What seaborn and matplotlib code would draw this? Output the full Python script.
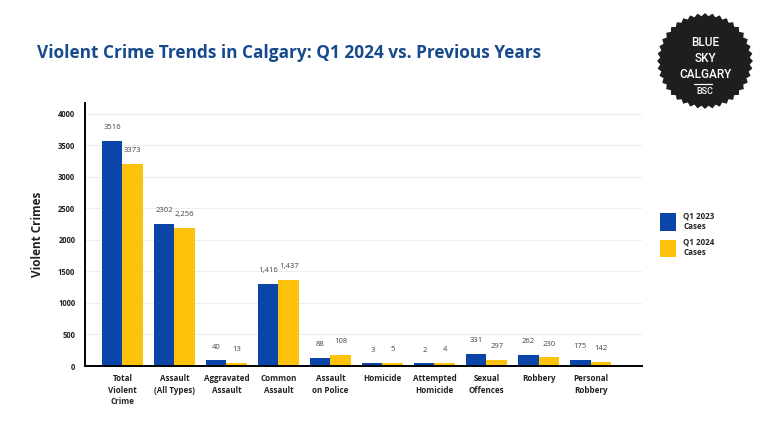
import numpy as np
import pandas as pd
import matplotlib
matplotlib.use("Agg")
import matplotlib.pyplot as plt
import seaborn as sns
from matplotlib.patches import Polygon

categories = ["Total\nViolent\nCrime", "Assault\n(All Types)", "Aggravated\nAssault", "Common\nAssault",
              "Assault\non Police", "Homicide", "Attempted\nHomicide", "Sexual\nOffences", "Robbery",
              "Personal\nRobbery"]
# bar heights as drawn in the reference
bars_2023 = [3570, 2250, 90, 1300, 130, 42, 40, 198, 178, 98]
bars_2024 = [3200, 2190, 48, 1365, 175, 55, 50, 100, 135, 67]
# value labels as printed in the reference
labels_2023 = ["3516", "2302", "40", "1,416", "88", "3", "2", "331", "262", "175"]
labels_2024 = ["3373", "2,256", "13", "1,437", "108", "5", "4", "297", "230", "142"]
series = ["Q1 2023\nCases", "Q1 2024\nCases"]
yticks = [0, 500, 1000, 1500, 2000, 2500, 3000, 3500, 4000]

BLUE = "#0B45A8"
YELLOW = "#FDC20C"
TXT = "#222222"

sns.set_theme(style="white")
plt.rcParams["font.family"] = ["Open Sans", "DejaVu Sans"]

df = pd.DataFrame({
    "cat": categories * 2,
    "val": bars_2023 + bars_2024,
    "series": [series[0]] * len(categories) + [series[1]] * len(categories),
})

fig = plt.figure(figsize=(7.68, 4.32), dpi=100)
ax = fig.add_axes([85 / 768, 1 - 366 / 432, (642 - 85) / 768, (366 - 103) / 432])
sns.barplot(data=df, x="cat", y="val", hue="series", palette=[BLUE, YELLOW],
            width=0.78, gap=0, saturation=1, linewidth=0, edgecolor="none", ax=ax, legend=True)

for cont, labs in zip(ax.containers, [labels_2023, labels_2024]):
    ax.bar_label(cont, labels=labs, padding=7, fontsize=5.5, color="#444444")

ax.set_xlim(-0.72, 9.99)
ax.set_ylim(0, 4170)
ax.set_yticks(yticks)
ax.set_yticklabels([str(v) for v in yticks], fontsize=5.5, fontweight="bold", color=TXT)
ax.tick_params(axis="y", length=0, pad=7)
ax.tick_params(axis="x", length=0, pad=6)
for t in ax.get_xticklabels():
    t.set_fontsize(5.8)
    t.set_fontweight("bold")
    t.set_color(TXT)
    t.set_linespacing(1.35)
ax.set_xlabel("")
ax.set_ylabel("Violent Crimes", fontsize=8.5, fontweight="bold", color=TXT, labelpad=10)
ax.yaxis.grid(True, color="#eeeeee", linewidth=0.8)
ax.set_axisbelow(True)
for s in ["top", "right"]:
    ax.spines[s].set_visible(False)
for s in ["left", "bottom"]:
    ax.spines[s].set_color("black")
    ax.spines[s].set_linewidth(1.4)

h, l = ax.get_legend_handles_labels()
ax.get_legend().remove()
fig.legend(h, l, loc="upper left", bbox_to_anchor=(653 / 768, 1 - 204 / 432), frameon=False,
           prop={"weight": "bold", "size": 5.8}, handlelength=1.95, handleheight=2.9,
           labelspacing=0.9, handletextpad=0.9)

fig.text(37 / 768, 1 - 53 / 432, "Violent Crime Trends in Calgary: Q1 2024 vs. Previous Years",
         fontsize=12.4, fontweight="bold", color="#174A8C", va="center", ha="left")

# logo
lax = fig.add_axes([655 / 768, 1 - 112 / 432, 100 / 768, 100 / 432])
lax.set_xlim(655, 755)
lax.set_ylim(112, 12)
lax.axis("off")
cx, cy, R, r, n = 705, 61, 47, 44, 40
ang = np.linspace(0, 2 * np.pi, 2 * n, endpoint=False)
rad = np.where(np.arange(2 * n) % 2 == 0, R, r)
pts = np.column_stack([cx + rad * np.cos(ang), cy + rad * np.sin(ang)])
lax.add_patch(Polygon(pts, closed=True, color="#1e1e1e"))
for txt, yy, fs in [("BLUE", 42, 8.5), ("SKY", 58, 8.5), ("CALGARY", 74, 8.5), ("BSC", 92, 6.5)]:
    lax.text(cx, yy, txt, color="white", fontsize=fs, ha="center", va="center",
             family=["Roboto", "DejaVu Sans"], fontweight="medium")
lax.plot([694, 712], [84, 84], color="white", linewidth=0.9)

fig.savefig("out.png", dpi=100)
